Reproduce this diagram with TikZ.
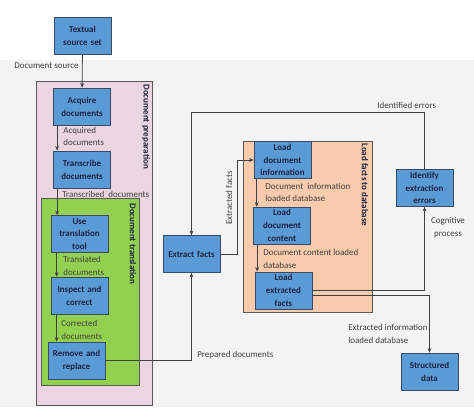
\documentclass[tikz,border=0pt]{standalone}
\usepackage{fontspec}
\setmainfont{Carlito}
\usepackage{tikz}
\usetikzlibrary{arrows.meta,positioning,graphs}
\definecolor{boxblue}{HTML}{5B9BD5}
\definecolor{boxline}{HTML}{3A4A66}
\definecolor{boxtext}{HTML}{1C2340}
\definecolor{prepfill}{HTML}{EBD5E0}
\definecolor{transfill}{HTML}{92D050}
\definecolor{loadfill}{HTML}{F8CBAD}
\definecolor{linecol}{HTML}{404040}
\definecolor{bggray}{HTML}{F4F3F4}

\begin{document}
\begin{tikzpicture}[x=0.02cm,y=-0.02cm]
	\tikzstyle{every node}=[font=\fontsize{5.1}{7.3}\selectfont,text=linecol];
	\tikzstyle{prc}=[draw=boxline,fill=boxblue,rectangle,align=center,inner sep=1pt,minimum width=1.14cm,minimum height=0.74cm,text width=1.05cm,font=\fontsize{5.1}{7.3}\selectfont\bfseries,text=boxtext];
	\tikzstyle{grp}=[draw=gray!70!black,line width=0.5pt];
	\tikzstyle{ttl}=[rotate=-90,anchor=west,inner sep=0pt,font=\fontsize{5.1}{7.3}\selectfont\bfseries,text=boxtext];
	\tikzstyle{lbl}=[align=left,inner sep=0pt];
	\tikzstyle{pth}=[draw=linecol,line width=0.5pt,-{Stealth[length=2.6pt,width=2.2pt]}];
	\useasboundingbox (0,0) rectangle (474,407);
	\fill[bggray] (0,60) rectangle (474,407);
	% group boxes
	\filldraw[grp,fill=prepfill] (36,81) rectangle (152,405);
	\filldraw[grp,fill=transfill] (41,198) rectangle (139,385);
	\filldraw[grp,fill=loadfill] (243,141) rectangle (372,312);
	\node (prep_title) [ttl] at (146,84) {Document preparation};
	\node (trans_title) [ttl] at (133,203) {Document translation};
	\node (load_title) [ttl] at (365,143) {Load facts to database};
	% process boxes
	\node (src_set) [prc] at (82.5,35.5) {Textual\\source set};
	\node (acq_doc) [prc] at (82,106.5) {Acquire\\documents};
	\node (trn_doc) [prc] at (82,169.5) {Transcribe\\documents};
	\node (use_tool) [prc] at (79.5,234) {Use\\translation\\tool};
	\node (insp_cor) [prc] at (79.5,295.5) {Inspect and\\correct};
	\node (rem_rep) [prc] at (76.5,360.5) {Remove and\\replace};
	\node (ext_fct) [prc] at (191.5,254) {Extract facts};
	\node (ld_info) [prc] at (282.5,160) {Load\\document\\information};
	\node (ld_cont) [prc] at (282,225.5) {Load\\document\\content};
	\node (ld_fact) [prc] at (283.5,290.5) {Load\\extracted\\facts};
	\node (id_err) [prc] at (424.5,188) {Identify\\extraction\\errors};
	\node (str_dat) [prc] at (429.5,371.5) {Structured\\data};
	% connectors
	\graph [use existing nodes,edges={pth}]{
		src_set -> acq_doc;
	};
	\draw[pth] ([xshift=.08cm]acq_doc.south west) -- ([xshift=.08cm]acq_doc.south west |- trn_doc.north);
	\draw[pth] ([xshift=.08cm]trn_doc.south west) -- ([xshift=.08cm]trn_doc.south west |- use_tool.north);
	\draw[pth] ([xshift=.12cm]use_tool.south west) -- ([xshift=.12cm]use_tool.south west |- insp_cor.north);
	\draw[pth] ([xshift=.12cm]insp_cor.south west) -- ([xshift=.12cm]insp_cor.south west |- rem_rep.north);
	\draw[pth] (rem_rep.east) -| (ext_fct.south);
	\draw[pth] (ext_fct.east) -- ++(17,0) |- (ld_info.west);
	\draw[pth] ([xshift=.06cm]ld_info.south west) -- ([xshift=.06cm]ld_info.south west |- ld_cont.north);
	\draw[pth] ([xshift=.08cm]ld_cont.south west) -- ([xshift=.08cm]ld_cont.south west |- ld_fact.north);
	\draw[pth] (ld_fact.east) -| (id_err.south);
	\draw[pth] ([yshift=-.1cm]ld_fact.east) -| (str_dat.north);
	\draw[pth] (id_err.north) -- ++(0,-57) -| (ext_fct.north);
	% connector labels
	\node (lbl_src) [lbl,anchor=west] at (14,66) {Document source};
	\node (lbl_acq) [lbl,anchor=west] at (63,136.5) {Acquired\\documents};
	\node (lbl_trn) [lbl,anchor=west] at (62,194) {Transcribed\ \ documents};
	\node (lbl_use) [lbl,anchor=west] at (63,266) {Translated\\documents};
	\node (lbl_insp) [lbl,anchor=west] at (61,330) {Corrected\\documents};
	\node (lbl_rem) [lbl,anchor=west] at (197,355) {Prepared documents};
	\node (lbl_ext) [lbl,rotate=90] at (229,198) {Extracted facts};
	\node (lbl_info) [lbl,anchor=west] at (265,192.5) {Document\ \ information\\loaded database};
	\node (lbl_cont) [lbl,anchor=west] at (263,259) {Document content loaded\\database};
	\node (lbl_err) [lbl,anchor=west] at (377,105) {Identified errors};
	\node (lbl_cog) [lbl,align=center] at (448,227.5) {Cognitive\\process};
	\node (lbl_str) [lbl,anchor=west] at (348,333.5) {Extracted information\\loaded database};
\end{tikzpicture}
\end{document}
